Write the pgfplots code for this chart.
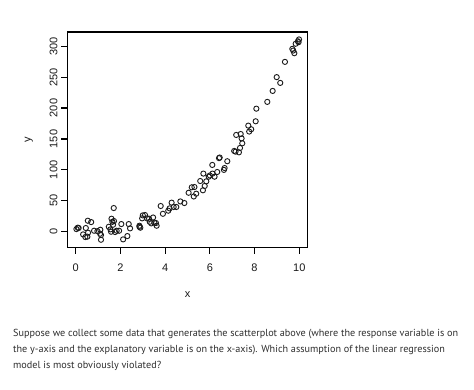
\documentclass[border=0pt]{standalone}
\usepackage{fontspec}
\setmainfont{Liberation Sans}
\newfontfamily\parafont{PT Sans}
\usepackage{pgfplots}
\usepackage{pgfplotstable}
\pgfplotsset{compat=1.18}
\pgfplotstableread{
x y
0.03 4.3
0.09 6.5
0.13 6.0
0.33 -4.3
0.45 6.0
0.43 -8.6
0.52 -8.0
0.55 -1.6
0.54 17.8
0.69 15.6
0.82 1.6
0.97 1.0
1.10 3.2
1.13 -5.4
1.13 -13.0
1.09 -3.2
1.48 8.0
1.55 3.8
1.60 21.0
1.58 0.0
1.64 16.0
1.67 11.3
1.70 38.3
1.71 17.3
1.76 -0.5
1.83 1.6
1.94 1.6
2.04 12.4
2.12 -12.4
2.31 -7.0
2.37 12.4
2.43 5.4
2.85 8.0
2.89 6.5
2.85 9.7
2.97 21.6
3.00 26.4
3.10 27.0
3.19 21.6
3.28 21.0
3.31 16.0
3.46 23.0
3.52 14.6
3.59 14.0
3.62 9.7
3.38 13.5
3.80 41.6
3.90 29.0
4.14 34.0
4.20 37.8
4.29 47.0
4.38 40.0
4.50 40.0
4.68 49.0
4.86 46.4
5.05 63.0
5.19 71.8
5.31 72.3
5.28 57.0
5.39 61.5
5.57 82.0
5.69 67.0
5.71 94.0
5.77 74.0
5.84 81.5
5.95 89.0
6.00 91.0
6.11 108.0
6.12 94.0
6.21 89.0
6.33 96.6
6.41 119.0
6.44 120.0
6.63 100.0
6.66 103.0
6.78 114.0
7.09 130.6
7.15 129.5
7.18 156.5
7.30 128.4
7.35 135.5
7.38 158.0
7.42 151.0
7.45 143.0
7.72 171.6
7.76 162.0
7.85 165.7
8.05 178.6
8.08 199.0
8.57 210.0
8.81 227.7
8.99 250.0
9.15 240.7
9.36 274.7
9.69 295.7
9.73 293.0
9.78 288.7
9.84 304.0
9.94 308.0
9.99 311.0
9.97 306.5
}\scatterdata
\definecolor{axcol}{HTML}{1A1A1A}
\definecolor{txtcol}{HTML}{2E2E2E}
\newlength\lineone
\settowidth\lineone{\parafont\fontsize{10}{12}\selectfont Suppose we collect some data that generates the scatterplot above (where the response variable is on}
\pgfmathsetmacro\parasize{10*445/\lineone}
\begin{document}
\begin{tikzpicture}[x=1pt,y=1pt]
\useasboundingbox[fill=white] (0,0) rectangle (474,389);
\begin{axis}[
  at={(67.7pt,141.7pt)}, anchor=south west,
  scale only axis, width=239.6pt, height=215.3pt,
  xmin=-0.36, xmax=10.36, ymin=-25.2, ymax=323,
  xtick={0,2,...,10}, ytick={0,50,...,300},
  tick pos=left,
  tick align=outside, major tick length=6.5pt,
  axis line style={line width=1.4pt, draw=black},
  major tick style={line width=1.2pt, draw=black},
  /pgf/number format/assume math mode=true,
  ticklabel style={font=\fontsize{11}{13}\selectfont, text=axcol, inner sep=0pt},
  xticklabel style={anchor=north},
  xticklabel shift=10pt,
  yticklabel style={rotate=90, anchor=south},
  yticklabel shift=3.5pt,
  xlabel={x}, ylabel={y},
  label style={font=\fontsize{11}{13}\selectfont, text=axcol},
  xlabel style={at={(axis description cs:0.5,-0.2216)}, anchor=center},
  ylabel style={at={(axis description cs:-0.162,0.5)}, anchor=center},
]
\addplot[only marks, mark=o, mark size=2.6pt, mark options={line width=0.9pt, draw=axcol}] table[x=x,y=y] {\scatterdata};
\end{axis}
\begin{scope}[every node/.style={anchor=base west, inner sep=0pt, text=txtcol, font=\parafont\fontsize{\parasize}{14}\selectfont}]
\node at (13,53) {Suppose we collect some data that generates the scatterplot above (where the response variable is on};
\node at (13,36.7) {the y-axis and the explanatory variable is on the x-axis). Which assumption of the linear regression};
\node at (13,20.5) {model is most obviously violated?};
\end{scope}
\end{tikzpicture}
\end{document}
